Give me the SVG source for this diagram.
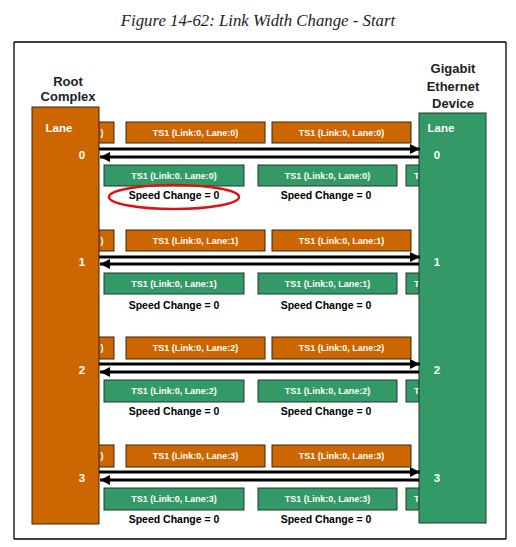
<svg xmlns="http://www.w3.org/2000/svg" width="516" height="547" viewBox="0 0 516 547">
<style>
.or{fill:#cc6600;stroke:#3a2410;stroke-width:1}
.gr{fill:#339966;stroke:#1f3a2c;stroke-width:1}
.bt{font-family:"Liberation Sans",Arial,sans-serif;font-weight:bold;fill:#fff;font-size:9px;text-anchor:middle}
.pt{font-family:"Liberation Sans",Arial,sans-serif;font-weight:bold;fill:#fff;font-size:9px;text-anchor:start}
.sp{font-family:"Liberation Sans",Arial,sans-serif;font-weight:bold;fill:#000;font-size:10.5px;text-anchor:middle}
.hd{font-family:"Liberation Sans",Arial,sans-serif;font-weight:bold;fill:#222;font-size:13px;text-anchor:middle}
.ln{font-family:"Liberation Sans",Arial,sans-serif;font-weight:bold;fill:#fff;font-size:11.5px;text-anchor:middle}
.ar{stroke:#000;stroke-width:3;fill:none}
</style>
<defs>
<marker id="ah" markerUnits="userSpaceOnUse" markerWidth="12" markerHeight="10" refX="10" refY="5" orient="auto">
<path d="M0,0 L10,5 L0,10 Z" fill="#000"/>
</marker>
</defs>
<rect width="516" height="547" fill="#fff"/>
<text x="258" y="26" text-anchor="middle" font-family="'Liberation Serif','Times New Roman',serif" font-style="italic" font-size="16.8" fill="#222">Figure 14-62: Link Width Change - Start</text>
<g id="frame" fill="none" stroke="#000" stroke-width="1.3">
<path d="M14,42 H506 M14,42 V539 M506,42 V539 M14,539 H506"/>
</g>
<g id="partial-boxes">
<rect class="or" x="88" y="122" width="26" height="21"/>
<text class="pt" x="100.5" y="135.5">)</text>
<rect class="or" x="88" y="230" width="26" height="21"/>
<text class="pt" x="100.5" y="243.5">)</text>
<rect class="or" x="88" y="337" width="26" height="22"/>
<text class="pt" x="100.5" y="351">)</text>
<rect class="or" x="88" y="445" width="26" height="22"/>
<text class="pt" x="100.5" y="459">)</text>
<rect class="gr" x="406" y="165" width="24" height="21"/>
<text class="pt" x="414" y="178.5">T</text>
<rect class="gr" x="406" y="273" width="24" height="21"/>
<text class="pt" x="414" y="286.5">T</text>
<rect class="gr" x="406" y="380" width="24" height="22"/>
<text class="pt" x="414" y="394">T</text>
<rect class="gr" x="406" y="488" width="24" height="22"/>
<text class="pt" x="414" y="502">T</text>
</g>
<g id="root-complex">
<text class="hd" x="68" y="86">Root</text>
<text class="hd" x="68" y="101">Complex</text>
<rect class="or" x="32" y="107" width="67" height="417"/>
<text class="ln" x="59" y="132">Lane</text>
<text class="ln" x="82" y="159">0</text>
<text class="ln" x="82" y="266">1</text>
<text class="ln" x="82" y="374">2</text>
<text class="ln" x="82" y="482">3</text>
</g>
<g id="gigabit-ethernet-device">
<text class="hd" x="453" y="73">Gigabit</text>
<text class="hd" x="453" y="91">Ethernet</text>
<text class="hd" x="453" y="108">Device</text>
<rect class="gr" x="419" y="113" width="67" height="410"/>
<text class="ln" x="441" y="132">Lane</text>
<text class="ln" x="437" y="159">0</text>
<text class="ln" x="437" y="266">1</text>
<text class="ln" x="437" y="374">2</text>
<text class="ln" x="437" y="482">3</text>
</g>
<g id="lane0">
<rect class="or" x="126" y="122" width="139" height="21"/>
<text class="bt" x="195.5" y="135.5">TS1 (Link:0, Lane:0)</text>
<rect class="or" x="272" y="122" width="139" height="21"/>
<text class="bt" x="341.5" y="135.5">TS1 (Link:0, Lane:0)</text>
<rect class="gr" x="104" y="165" width="140" height="21"/>
<text class="bt" x="174" y="178.5">TS1 (Link:0. Lane:0)</text>
<rect class="gr" x="258" y="165" width="139" height="21"/>
<text class="bt" x="327.5" y="178.5">TS1 (Link:0, Lane:0)</text>
<text class="sp" x="174" y="199">Speed Change = 0</text>
<text class="sp" x="326" y="199">Speed Change = 0</text>
<ellipse cx="174" cy="197" rx="65" ry="12" fill="none" stroke="#dd1111" stroke-width="2.5"/>
</g>
<g id="lane1">
<rect class="or" x="126" y="230" width="139" height="21"/>
<text class="bt" x="195.5" y="243.5">TS1 (Link:0, Lane:1)</text>
<rect class="or" x="272" y="230" width="139" height="21"/>
<text class="bt" x="341.5" y="243.5">TS1 (Link:0, Lane:1)</text>
<rect class="gr" x="104" y="273" width="140" height="21"/>
<text class="bt" x="174" y="286.5">TS1 (Link:0, Lane:1)</text>
<rect class="gr" x="258" y="273" width="139" height="21"/>
<text class="bt" x="327.5" y="286.5">TS1 (Link:0, Lane:1)</text>
<text class="sp" x="174" y="309">Speed Change = 0</text>
<text class="sp" x="326" y="309">Speed Change = 0</text>
</g>
<g id="lane2">
<rect class="or" x="126" y="337" width="139" height="22"/>
<text class="bt" x="195.5" y="351">TS1 (Link:0, Lane:2)</text>
<rect class="or" x="272" y="337" width="139" height="22"/>
<text class="bt" x="341.5" y="351">TS1 (Link:0, Lane:2)</text>
<rect class="gr" x="104" y="380" width="140" height="22"/>
<text class="bt" x="174" y="394">TS1 (Link:0, Lane:2)</text>
<rect class="gr" x="258" y="380" width="139" height="22"/>
<text class="bt" x="327.5" y="394">TS1 (Link:0, Lane:2)</text>
<text class="sp" x="174" y="415">Speed Change = 0</text>
<text class="sp" x="326" y="415">Speed Change = 0</text>
</g>
<g id="lane3">
<rect class="or" x="126" y="445" width="139" height="22"/>
<text class="bt" x="195.5" y="459">TS1 (Link:0, Lane:3)</text>
<rect class="or" x="272" y="445" width="139" height="22"/>
<text class="bt" x="341.5" y="459">TS1 (Link:0, Lane:3)</text>
<rect class="gr" x="104" y="488" width="140" height="22"/>
<text class="bt" x="174" y="502">TS1 (Link:0, Lane:3)</text>
<rect class="gr" x="258" y="488" width="139" height="22"/>
<text class="bt" x="327.5" y="502">TS1 (Link:0, Lane:3)</text>
<text class="sp" x="174" y="523">Speed Change = 0</text>
<text class="sp" x="326" y="523">Speed Change = 0</text>
</g>
<g id="connectors">
<line class="ar" x1="99" y1="149" x2="420" y2="149" marker-end="url(#ah)"/>
<line class="ar" x1="419" y1="157" x2="100" y2="157" marker-end="url(#ah)"/>
<line class="ar" x1="99" y1="257" x2="420" y2="257" marker-end="url(#ah)"/>
<line class="ar" x1="419" y1="264" x2="100" y2="264" marker-end="url(#ah)"/>
<line class="ar" x1="99" y1="364" x2="420" y2="364" marker-end="url(#ah)"/>
<line class="ar" x1="419" y1="372" x2="100" y2="372" marker-end="url(#ah)"/>
<line class="ar" x1="99" y1="472" x2="420" y2="472" marker-end="url(#ah)"/>
<line class="ar" x1="419" y1="480" x2="100" y2="480" marker-end="url(#ah)"/>
</g>
</svg>
